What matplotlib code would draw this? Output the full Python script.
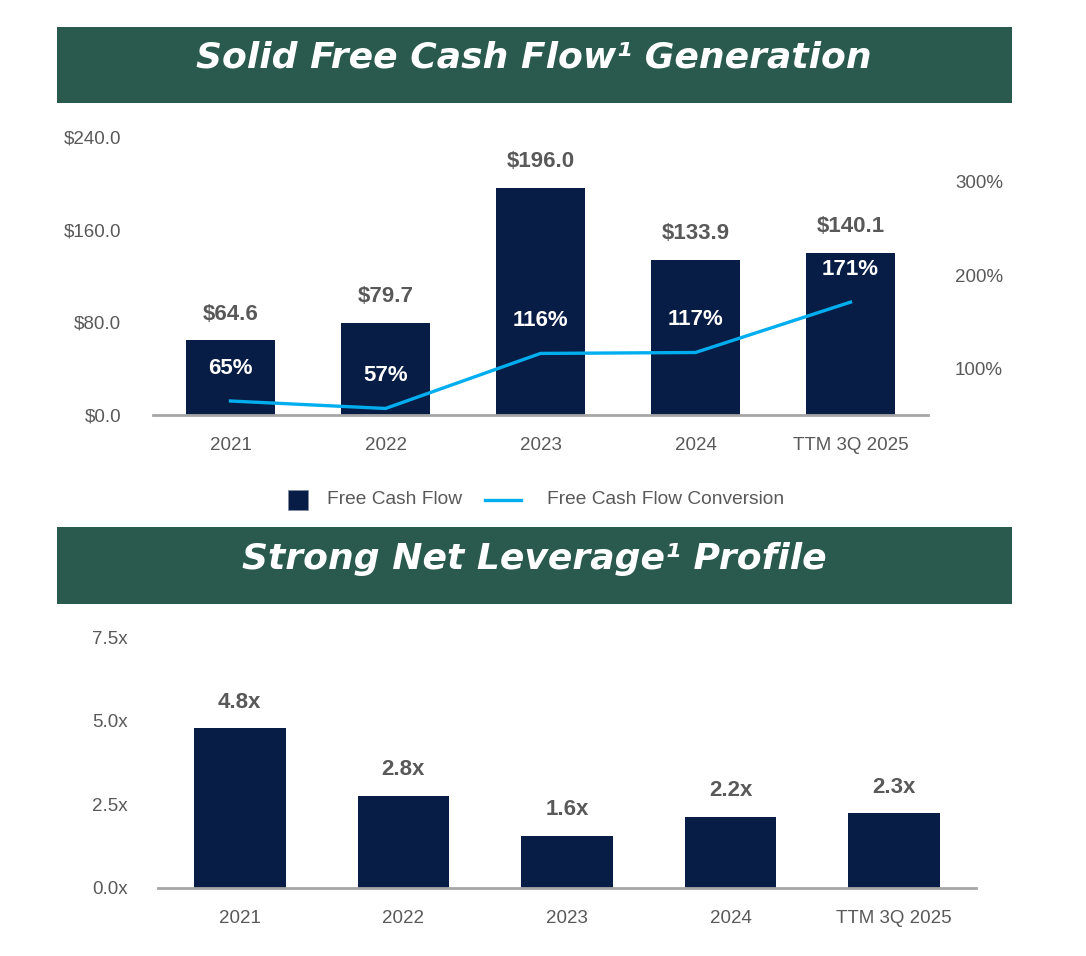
import matplotlib
matplotlib.use("Agg")
import matplotlib.pyplot as plt
from matplotlib.patches import Rectangle
from matplotlib.lines import Line2D
import numpy as np

# ---- data ----
categories = ["2021", "2022", "2023", "2024", "TTM 3Q 2025"]
fcf_values = [64.6, 79.7, 196.0, 133.9, 140.1]
fcf_labels = ["$64.6", "$79.7", "$196.0", "$133.9", "$140.1"]
conversion_values = [65, 57, 116, 117, 171]
conversion_labels = ["65%", "57%", "116%", "117%", "171%"]
left_ticks = [0, 80, 160, 240]
left_tick_labels = ["$0.0", "$80.0", "$160.0", "$240.0"]
right_ticks = [100, 200, 300]
right_tick_labels = ["100%", "200%", "300%"]
legend_labels = ["Free Cash Flow", "Free Cash Flow Conversion"]

leverage_values = [4.77, 2.75, 1.56, 2.13, 2.24]
leverage_labels = ["4.8x", "2.8x", "1.6x", "2.2x", "2.3x"]
lev_ticks = [0, 2.5, 5.0, 7.5]
lev_tick_labels = ["0.0x", "2.5x", "5.0x", "7.5x"]

title_top = "Solid Free Cash Flow\u00b9 Generation"
title_bottom = "Strong Net Leverage\u00b9 Profile"

# ---- style ----
NAVY = "#081d45"
BLUE = "#00aeef"
GREEN = "#2a5a4d"
GRAY = "#595959"
AXIS_GRAY = "#a6a6a6"
FONT = "Liberation Sans"
TICK_SIZE = 13.5
LABEL_SIZE = 16

W, H = 1086, 956
fig = plt.figure(figsize=(W / 100, H / 100), dpi=100)
fig.patch.set_facecolor("white")


def fx(px):
    return px / W


def fy(py):
    return 1 - py / H


def pt(px):
    return px * 72 / 100


def header(y0, y1, text):
    fig.patches.append(Rectangle((fx(57), fy(y1)), fx(1012) - fx(57), fy(y0) - fy(y1),
                                 transform=fig.transFigure, facecolor=GREEN,
                                 edgecolor="none", zorder=0))
    fig.text(fx(534), fy((y0 + y1) / 2 - 7), text, ha="center", va="center",
             color="white", fontsize=26, fontweight="bold", fontstyle="italic",
             family=["DejaVu Sans"])


header(27, 103, title_top)
header(527, 604, title_bottom)

x = np.arange(len(categories))


def style_axis(ax, ypad_px):
    for s in ["top", "right", "left"]:
        ax.spines[s].set_visible(False)
    ax.spines["bottom"].set_color(AXIS_GRAY)
    ax.spines["bottom"].set_linewidth(2)
    ax.spines["bottom"].set_zorder(3)
    ax.tick_params(axis="both", length=0, labelsize=TICK_SIZE, labelcolor=GRAY)
    ax.tick_params(axis="y", pad=pt(ypad_px))
    ax.tick_params(axis="x", pad=pt(22))
    for lab in ax.get_xticklabels() + ax.get_yticklabels():
        lab.set_family(FONT)


# ---- top chart ----
ax1 = fig.add_axes([fx(153), fy(415), fx(928) - fx(153), fy(137) - fy(415)])
ax1.bar(x, fcf_values, width=0.57, color=NAVY, zorder=2)
ax1.set_xlim(-0.5, len(categories) - 0.5)
ax1.set_ylim(0, 240)
ax1.set_yticks(left_ticks)
ax1.set_yticklabels(left_tick_labels)
ax1.set_xticks(x)
ax1.set_xticklabels(categories)
style_axis(ax1, 32)
for xi, v, lab in zip(x, fcf_values, fcf_labels):
    ax1.annotate(lab, (xi, v), xytext=(0, pt(26)), textcoords="offset points",
                 ha="center", va="center", fontsize=LABEL_SIZE, fontweight="bold",
                 color=GRAY, family=FONT)

ax2 = ax1.twinx()
ax2.set_ylim(50, 348)
ax2.plot(x, conversion_values, color=BLUE, linewidth=2.4, zorder=3)
ax2.set_yticks(right_ticks)
ax2.set_yticklabels(right_tick_labels)
for s in ["top", "right", "left", "bottom"]:
    ax2.spines[s].set_visible(False)
ax2.tick_params(axis="y", length=0, labelsize=TICK_SIZE, labelcolor=GRAY, pad=pt(27))
for lab in ax2.get_yticklabels():
    lab.set_family(FONT)
for xi, v, lab in zip(x, conversion_values, conversion_labels):
    ax2.annotate(lab, (xi, v), xytext=(0, pt(33)), textcoords="offset points",
                 ha="center", va="center", fontsize=LABEL_SIZE, fontweight="bold",
                 color="white", family=FONT, zorder=4)

# ---- legend (drawn manually to match handle sizes) ----
ly = fy(500)
fig.patches.append(Rectangle((fx(288), fy(510)), fx(20), fy(490) - fy(510),
                             transform=fig.transFigure, facecolor=NAVY,
                             edgecolor="#7f8aa0", linewidth=0.5))
fig.text(fx(327), ly, legend_labels[0], ha="left", va="center",
         fontsize=13.8, color=GRAY, family=FONT)
fig.lines.append(Line2D([fx(485), fx(521)], [ly, ly], transform=fig.transFigure,
                        color=BLUE, linewidth=2.4))
fig.text(fx(547), ly, legend_labels[1], ha="left", va="center",
         fontsize=13.8, color=GRAY, family=FONT)

# ---- bottom chart ----
ax3 = fig.add_axes([fx(158), fy(888), fx(976) - fx(158), fy(637) - fy(888)])
ax3.bar(x, leverage_values, width=0.56, color=NAVY, zorder=2)
ax3.set_xlim(-0.5, len(categories) - 0.5)
ax3.set_ylim(0, 7.5)
ax3.set_yticks(lev_ticks)
ax3.set_yticklabels(lev_tick_labels)
ax3.set_xticks(x)
ax3.set_xticklabels(categories)
style_axis(ax3, 30)
for xi, v, lab in zip(x, leverage_values, leverage_labels):
    ax3.annotate(lab, (xi, v), xytext=(0, pt(26)), textcoords="offset points",
                 ha="center", va="center", fontsize=LABEL_SIZE, fontweight="bold",
                 color=GRAY, family=FONT)

fig.savefig("out.png", dpi=100)
